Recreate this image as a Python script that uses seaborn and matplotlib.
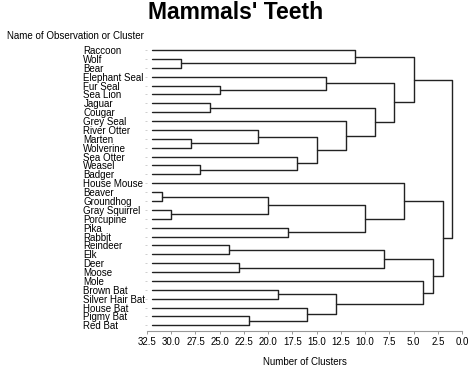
import numpy as np
import pandas as pd
import matplotlib
matplotlib.use("Agg")
import matplotlib.pyplot as plt
import seaborn as sns

# leaves in display order (top to bottom)
leaves = ["Raccoon", "Wolf", "Bear", "Elephant Seal", "Fur Seal", "Sea Lion",
          "Jaguar", "Cougar", "Grey Seal", "River Otter", "Marten", "Wolverine",
          "Sea Otter", "Weasel", "Badger", "House Mouse", "Beaver", "Groundhog",
          "Gray Squirrel", "Porcupine", "Pika", "Rabbit", "Reindeer", "Elk",
          "Deer", "Moose", "Mole", "Brown Bat", "Silver Hair Bat", "House Bat",
          "Pigmy Bat", "Red Bat"]

# merges, SAS style: CLn is the cluster formed when n clusters remain
n_clusters = [31, 30, 29, 28, 27, 26, 25, 24, 23, 22, 21, 20, 19, 18, 17, 16,
              15, 14, 13, 12, 11, 10, 9, 8, 7, 6, 5, 4, 3, 2, 1]
merge_left = ["Beaver", "Gray Squirrel", "Wolf", "Marten", "Weasel", "Jaguar",
              "Fur Seal", "Reindeer", "Deer", "Pigmy Bat", "River Otter", "CL31",
              "Brown Bat", "Pika", "Sea Otter", "House Bat", "CL21",
              "Elephant Seal", "CL19", "Grey Seal", "Raccoon", "CL20", "CL26",
              "CL24", "CL14", "House Mouse", "CL11", "Mole", "CL8", "CL6", "CL5"]
merge_right = ["Groundhog", "Porcupine", "Bear", "Wolverine", "Badger", "Cougar",
               "Sea Lion", "Elk", "Moose", "Red Bat", "CL28", "CL30",
               "Silver Hair Bat", "Rabbit", "CL27", "CL22", "CL17", "CL25",
               "CL16", "CL15", "CL29", "CL18", "CL12", "CL23", "CL9", "CL10",
               "CL7", "CL13", "CL4", "CL3", "CL2"]

leaf_height = 32

sns.set_theme(style="white")
plt.rcParams["font.family"] = ["Liberation Sans", "DejaVu Sans"]
plt.rcParams["text.color"] = "black"
plt.rcParams["axes.labelcolor"] = "black"

# build elbow paths from the merge table
pos = {name: float(i) for i, name in enumerate(leaves)}
hgt = {name: float(leaf_height) for name in leaves}
rows = []
for n, a, b in zip(n_clusters, merge_left, merge_right):
    pts = [(hgt[a], pos[a]), (n, pos[a]), (n, pos[b]), (hgt[b], pos[b])]
    for k, (x, y) in enumerate(pts):
        rows.append({"seg": n, "order": k, "x": x, "y": y})
    node = f"CL{n}"
    pos[node] = (pos[a] + pos[b]) / 2
    hgt[node] = float(n)
segs = pd.DataFrame(rows)

fig = plt.figure(figsize=(4.74, 3.70), dpi=100)
ax = fig.add_axes([0.3101, 0.1062, 0.6646, 0.7730])

sns.lineplot(data=segs, x="x", y="y", units="seg", estimator=None, sort=False,
             color="#222222", linewidth=1.0, ax=ax, legend=False)

ax.set_xlim(32.5, 0)
ax.set_ylim(31.6, -0.6)

ax.set_xticks(np.arange(0, 32.6, 2.5))
ax.set_xticklabels([f"{v:.1f}" for v in np.arange(0, 32.6, 2.5)], fontsize=7)
ax.set_yticks(range(len(leaves)))
ax.set_yticklabels(leaves, fontsize=7, ha="left")

ax.tick_params(axis="y", length=1.8, width=0.6, color="#c8c8c8", pad=44,
               left=True, labelcolor="black")
ax.tick_params(axis="x", length=2.5, width=0.7, color="#999999", pad=2,
               bottom=True, labelcolor="black")
for side in ["top", "right", "left"]:
    ax.spines[side].set_visible(False)
ax.spines["bottom"].set_color("#999999")
ax.spines["bottom"].set_linewidth(0.8)

ax.set_ylabel("")
ax.set_xlabel("Number of Clusters", fontsize=7, va="center")
ax.xaxis.set_label_coords(0.5, -31 / 286)

fig.text(0.498, 0.966, "Mammals' Teeth", fontsize=16.5, fontweight="bold",
         ha="center", va="center")
fig.text(0.0148, 0.903, "Name of Observation or Cluster", fontsize=7,
         ha="left", va="center")

fig.savefig("out.png", dpi=100, facecolor="white")
